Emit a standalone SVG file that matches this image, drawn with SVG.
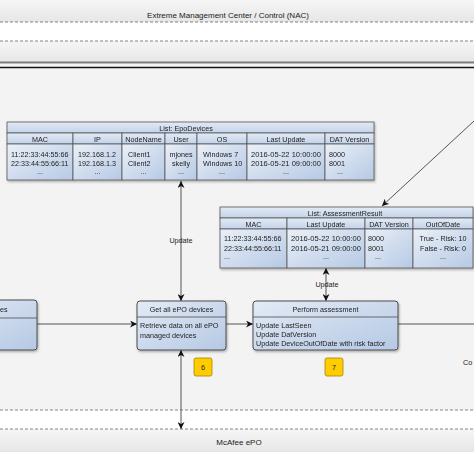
<svg xmlns="http://www.w3.org/2000/svg" width="474" height="455" viewBox="0 0 474 455">
<style>
text{font-family:"Liberation Sans",Arial,sans-serif;fill:#222;}
.t{font-size:7.2px;}
.c{text-anchor:middle;}
.lane{font-size:8px;text-anchor:middle;fill:#222;}
.dash{stroke:#666;stroke-width:0.8;stroke-dasharray:3 2;fill:none;}
.cell{fill:url(#cg);stroke:#555;stroke-width:0.8;}
.hdr{fill:url(#hg);stroke:#555;stroke-width:0.8;}
.box{fill:url(#bg);stroke:#4d4d4d;stroke-width:1;}
.sep{stroke:#4d4d4d;stroke-width:0.8;}
.edge{stroke:#555;stroke-width:1;fill:none;}
.badge{fill:#ffcc00;stroke:#a88400;stroke-width:0.8;}
</style>
<defs>
<linearGradient id="cg" x1="0" y1="0" x2="1" y2="1">
<stop offset="0" stop-color="#eaf0f8"/>
<stop offset="1" stop-color="#b6c9e4"/>
</linearGradient>
<linearGradient id="hg" x1="0" y1="0" x2="0" y2="1">
<stop offset="0" stop-color="#e2eaf5"/>
<stop offset="1" stop-color="#c3d3ea"/>
</linearGradient>
<linearGradient id="bg" x1="0" y1="0" x2="1" y2="1">
<stop offset="0" stop-color="#e3ebf6"/>
<stop offset="1" stop-color="#b5c8e4"/>
</linearGradient>
<linearGradient id="band" x1="0" y1="0" x2="0" y2="1">
<stop offset="0" stop-color="#f6f6f6"/>
<stop offset="1" stop-color="#e6e6e6"/>
</linearGradient>
<linearGradient id="band2" x1="0" y1="0" x2="0" y2="1">
<stop offset="0" stop-color="#e6e6e6"/>
<stop offset="1" stop-color="#f6f6f6"/>
</linearGradient>
<filter id="sh" x="-10%" y="-10%" width="120%" height="130%">
<feDropShadow dx="1" dy="1.5" stdDeviation="1" flood-color="#000" flood-opacity="0.3"/>
</filter>
<marker id="ah" viewBox="0 0 10 10" refX="10" refY="5" markerWidth="7" markerHeight="7" orient="auto-start-reverse" markerUnits="userSpaceOnUse">
<path d="M0,0 L10,5 L0,10 L3,5 Z" fill="#111"/>
</marker>
</defs>

<!-- background / lanes -->
<rect x="0" y="0" width="474" height="455" fill="#ffffff"/>
<rect x="0" y="0" width="474" height="22" fill="url(#band)"/>
<rect x="0" y="41" width="474" height="21" fill="url(#band)"/>
<rect x="0" y="64" width="474" height="346" fill="#f3f3f3"/>
<rect x="0" y="429" width="474" height="23" fill="url(#band)"/>
<line class="dash" x1="0" y1="22" x2="474" y2="22"/>
<line class="dash" x1="0" y1="41" x2="474" y2="41"/>
<line x1="0" y1="62.5" x2="474" y2="62.5" stroke="#7a7a7a" stroke-width="2"/>
<line x1="0" y1="67.5" x2="474" y2="67.5" stroke="#111" stroke-width="1.3"/>
<line class="dash" x1="0" y1="410" x2="474" y2="410"/>
<line class="dash" x1="0" y1="429" x2="474" y2="429"/>
<text class="lane" x="228" y="18">Extreme Management Center / Control (NAC)</text>
<text class="lane" x="239" y="445">McAfee ePO</text>

<!-- connectors -->
<g id="connectors">
<line class="edge" x1="37" y1="324" x2="137" y2="324" marker-end="url(#ah)"/>
<line class="edge" x1="226" y1="324" x2="253" y2="324" marker-end="url(#ah)"/>
<line class="edge" x1="398" y1="324" x2="474" y2="324"/>
<line class="edge" x1="181" y1="181" x2="181" y2="301" marker-start="url(#ah)" marker-end="url(#ah)"/>
<line class="edge" x1="181" y1="350" x2="181" y2="429" marker-start="url(#ah)" marker-end="url(#ah)"/>
<line class="edge" x1="326" y1="268" x2="326" y2="301" marker-start="url(#ah)" marker-end="url(#ah)"/>
<line class="edge" x1="474" y1="121" x2="382" y2="206" marker-end="url(#ah)"/>
<text class="t c" x="181" y="243">Update</text>
<text class="t c" x="327" y="287">Update</text>
<text class="t" x="463" y="365">Co</text>
</g>

<!-- left (partial) box -->
<g id="left-box" filter="url(#sh)">
<rect class="box" x="-60" y="300" width="97" height="50" rx="3"/>
<line class="sep" x1="-60" y1="318" x2="37" y2="318"/>
<text class="t" x="0" y="311.5">es</text>
</g>

<!-- EpoDevices table -->
<g id="epo-devices" filter="url(#sh)">
<rect class="hdr" x="7" y="122" width="367" height="11"/>
<rect class="hdr" x="7" y="133" width="66" height="11"/>
<rect class="hdr" x="73" y="133" width="49" height="11"/>
<rect class="hdr" x="122" y="133" width="43" height="11"/>
<rect class="hdr" x="165" y="133" width="32" height="11"/>
<rect class="hdr" x="197" y="133" width="50" height="11"/>
<rect class="hdr" x="247" y="133" width="78" height="11"/>
<rect class="hdr" x="325" y="133" width="49" height="11"/>
<rect class="cell" x="7" y="144" width="66" height="36"/>
<rect class="cell" x="73" y="144" width="49" height="36"/>
<rect class="cell" x="122" y="144" width="43" height="36"/>
<rect class="cell" x="165" y="144" width="32" height="36"/>
<rect class="cell" x="197" y="144" width="50" height="36"/>
<rect class="cell" x="247" y="144" width="78" height="36"/>
<rect class="cell" x="325" y="144" width="49" height="36"/>
<text class="t c" x="186" y="130.5">List: EpoDevices</text>
<text class="t c" x="40" y="141.5">MAC</text>
<text class="t c" x="97.5" y="141.5">IP</text>
<text class="t c" x="143.5" y="141.5">NodeName</text>
<text class="t c" x="181" y="141.5">User</text>
<text class="t c" x="222" y="141.5">OS</text>
<text class="t c" x="286" y="141.5">Last Update</text>
<text class="t c" x="349.5" y="141.5">DAT Version</text>
<text class="t" x="11" y="157">11:22:33:44:55:66</text>
<text class="t" x="11" y="166">22:33:44:55:66:11</text>
<text class="t c" x="40" y="174" fill="#888">...</text>
<text class="t" x="78" y="157">192.168.1.2</text>
<text class="t" x="78" y="166">192.168.1.3</text>
<text class="t c" x="97.5" y="174">...</text>
<text class="t" x="128" y="157">Client1</text>
<text class="t" x="128" y="166">Client2</text>
<text class="t c" x="143.5" y="174">...</text>
<text class="t c" x="181" y="157">mjones</text>
<text class="t c" x="181" y="166">skelly</text>
<text class="t c" x="181" y="174">...</text>
<text class="t" x="203" y="157">Windows 7</text>
<text class="t" x="203" y="166">Windows 10</text>
<text class="t c" x="222" y="174">...</text>
<text class="t" x="251" y="157" textLength="70" lengthAdjust="spacingAndGlyphs">2016-05-22 10:00:00</text>
<text class="t" x="251" y="166" textLength="70" lengthAdjust="spacingAndGlyphs">2016-05-21 09:00:00</text>
<text class="t c" x="286" y="174">...</text>
<text class="t" x="329" y="157">8000</text>
<text class="t" x="329" y="166">8001</text>
<text class="t c" x="340" y="174">...</text>
</g>

<!-- AssessmentResult table -->
<g id="assessment-result" filter="url(#sh)">
<rect class="hdr" x="220" y="207" width="253" height="11"/>
<rect class="hdr" x="220" y="218" width="67" height="11"/>
<rect class="hdr" x="287" y="218" width="78" height="11"/>
<rect class="hdr" x="365" y="218" width="48" height="11"/>
<rect class="hdr" x="413" y="218" width="60" height="11"/>
<rect class="cell" x="220" y="229" width="67" height="39"/>
<rect class="cell" x="287" y="229" width="78" height="39"/>
<rect class="cell" x="365" y="229" width="48" height="39"/>
<rect class="cell" x="413" y="229" width="60" height="39"/>
<text class="t c" x="345" y="215.5">List: AssessmentResult</text>
<text class="t c" x="253.5" y="226.5">MAC</text>
<text class="t c" x="326" y="226.5">Last Update</text>
<text class="t c" x="389" y="226.5">DAT Version</text>
<text class="t c" x="443" y="226.5">OutOfDate</text>
<text class="t" x="224" y="241">11:22:33:44:55:66</text>
<text class="t" x="224" y="250.5">22:33:44:55:66:11</text>
<text class="t" x="224" y="259">...</text>
<text class="t" x="291" y="241" textLength="70" lengthAdjust="spacingAndGlyphs">2016-05-22 10:00:00</text>
<text class="t" x="291" y="250.5" textLength="70" lengthAdjust="spacingAndGlyphs">2016-05-21 09:00:00</text>
<text class="t c" x="326" y="259">...</text>
<text class="t" x="368" y="241">8000</text>
<text class="t" x="368" y="250.5">8001</text>
<text class="t" x="375" y="259">...</text>
<text class="t c" x="443" y="241">True - Risk: 10</text>
<text class="t c" x="443" y="250.5">False - Risk: 0</text>
<text class="t c" x="443" y="259">...</text>
</g>

<!-- Get all ePO devices -->
<g id="get-all-epo" filter="url(#sh)">
<rect class="box" x="137" y="301" width="89" height="49" rx="3"/>
<line class="sep" x1="137" y1="317" x2="226" y2="317"/>
<text class="t c" x="181.5" y="312">Get all ePO devices</text>
<text class="t" x="140" y="328">Retrieve data on all ePO</text>
<text class="t" x="140" y="338">managed devices</text>
</g>

<!-- Perform assessment -->
<g id="perform-assessment" filter="url(#sh)">
<rect class="box" x="253" y="301" width="145" height="49" rx="3"/>
<line class="sep" x1="253" y1="317" x2="398" y2="317"/>
<text class="t c" x="325.5" y="312">Perform assessment</text>
<text class="t" x="256" y="327.5">Update LastSeen</text>
<text class="t" x="256" y="336.5">Update DatVersion</text>
<text class="t" x="256" y="345.5">Update DeviceOutOfDate with risk factor</text>
</g>

<!-- badges -->
<g id="badge-6">
<rect class="badge" x="194" y="358" width="18" height="18" rx="2"/>
<text class="t c" x="203" y="370">6</text>
</g>
<g id="badge-7">
<rect class="badge" x="325" y="358" width="18" height="18" rx="2"/>
<text class="t c" x="334" y="370">7</text>
</g>
</svg>
